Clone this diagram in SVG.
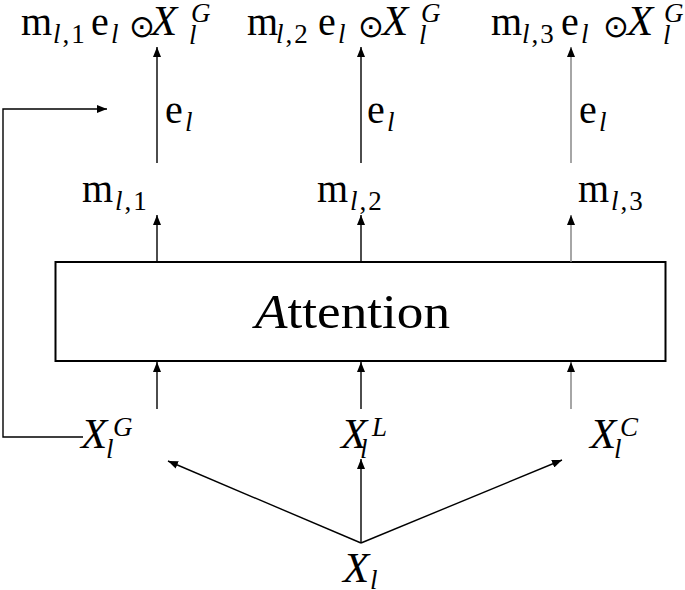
<svg xmlns="http://www.w3.org/2000/svg" width="685" height="590" viewBox="0 0 685 590">
<style>
text{font-family:"Liberation Serif","DejaVu Serif",serif;fill:#000}
.m{font-size:40px}
.s{font-size:27px}
.ls{letter-spacing:2px}
.i{font-style:italic}
.x{font-size:43px;font-style:italic}
.od{font-family:"DejaVu Sans",sans-serif;font-size:31px}
.ln{fill:none;stroke:#000;stroke-width:1.4}
.gr{stroke:#808080}
</style>
<defs>
<marker id="ah" viewBox="0 0 10 8" refX="10" refY="4" markerWidth="10" markerHeight="8" markerUnits="userSpaceOnUse" orient="auto">
<path d="M0,0 L10,4 L0,8 Z" fill="#000"/>
</marker>
</defs>
<rect width="685" height="590" fill="#fff"/>
<g id="attention">
<rect x="55.5" y="262" width="610" height="99" fill="#fff" stroke="#000" stroke-width="2"/>
<text x="255" y="328" font-size="48" textLength="195" lengthAdjust="spacingAndGlyphs"><tspan class="i">A</tspan>ttention</text>
</g>
<g id="connectors">
<line class="ln" x1="157" y1="163" x2="157" y2="47" marker-end="url(#ah)"/>
<line class="ln" x1="361" y1="163" x2="361" y2="47" marker-end="url(#ah)"/>
<line class="ln gr" x1="571" y1="163" x2="571" y2="47" marker-end="url(#ah)"/>
<line class="ln" x1="157" y1="262" x2="157" y2="215" marker-end="url(#ah)"/>
<line class="ln" x1="361" y1="262" x2="361" y2="215" marker-end="url(#ah)"/>
<line class="ln gr" x1="571" y1="262" x2="571" y2="215" marker-end="url(#ah)"/>
<line class="ln" x1="157" y1="409" x2="157" y2="362" marker-end="url(#ah)"/>
<line class="ln" x1="361" y1="409" x2="361" y2="362" marker-end="url(#ah)"/>
<line class="ln gr" x1="571" y1="409" x2="571" y2="362" marker-end="url(#ah)"/>
<line class="ln" x1="361" y1="543" x2="361" y2="459" marker-end="url(#ah)"/>
<line class="ln" x1="361" y1="543" x2="168" y2="461" marker-end="url(#ah)"/>
<line class="ln" x1="361" y1="543" x2="562" y2="460" marker-end="url(#ah)"/>
<polyline class="ln" points="83,437 3,437 3,109 107,109" marker-end="url(#ah)"/>
</g>
<g id="out1">
<text><tspan class="m" x="21" y="35">m</tspan><tspan class="s ls" x="53" y="43"><tspan class="i">l</tspan>,1</tspan><tspan class="m" x="91" y="35">e</tspan><tspan class="s i" x="111" y="43">l</tspan><tspan class="od" x="129" y="37">⊙</tspan><tspan class="x" x="151" y="35">X</tspan><tspan class="s i" x="191" y="22">G</tspan><tspan class="s i" x="189" y="44">l</tspan></text>
</g>
<g id="out2">
<text><tspan class="m" x="247" y="35">m</tspan><tspan class="s ls" x="276" y="43"><tspan class="i">l</tspan>,2</tspan><tspan class="m" x="318" y="35">e</tspan><tspan class="s i" x="338" y="43">l</tspan><tspan class="od" x="358" y="37">⊙</tspan><tspan class="x" x="382" y="35">X</tspan><tspan class="s i" x="421" y="22">G</tspan><tspan class="s i" x="419" y="44">l</tspan></text>
</g>
<g id="out3">
<text><tspan class="m" x="491" y="35">m</tspan><tspan class="s ls" x="522" y="43"><tspan class="i">l</tspan>,3</tspan><tspan class="m" x="561" y="35">e</tspan><tspan class="s i" x="581" y="43">l</tspan><tspan class="od" x="603" y="37">⊙</tspan><tspan class="x" x="627" y="35">X</tspan><tspan class="s i" x="664" y="22">G</tspan><tspan class="s i" x="663" y="44">l</tspan></text>
</g>
<g id="e1"><text><tspan class="m" x="165" y="123">e</tspan><tspan class="s i" x="185" y="131">l</tspan></text></g>
<g id="e2"><text><tspan class="m" x="367" y="123">e</tspan><tspan class="s i" x="387" y="131">l</tspan></text></g>
<g id="e3"><text><tspan class="m" x="579" y="123">e</tspan><tspan class="s i" x="599" y="131">l</tspan></text></g>
<g id="m1"><text><tspan class="m" x="82" y="202">m</tspan><tspan class="s ls" x="115" y="210"><tspan class="i">l</tspan>,1</tspan></text></g>
<g id="m2"><text><tspan class="m" x="317" y="202">m</tspan><tspan class="s ls" x="350" y="210"><tspan class="i">l</tspan>,2</tspan></text></g>
<g id="m3"><text><tspan class="m" x="578" y="202">m</tspan><tspan class="s ls" x="611" y="210"><tspan class="i">l</tspan>,3</tspan></text></g>
<g id="xg"><text><tspan class="x" x="81" y="448">X</tspan><tspan class="s i" x="113" y="436">G</tspan><tspan class="s i" x="106" y="458">l</tspan></text></g>
<g id="xl"><text><tspan class="x" x="341" y="448">X</tspan><tspan class="s i" x="372" y="436">L</tspan><tspan class="s i" x="360" y="458">l</tspan></text></g>
<g id="xc"><text><tspan class="x" x="590" y="448">X</tspan><tspan class="s i" x="620" y="436">C</tspan><tspan class="s i" x="614" y="458">l</tspan></text></g>
<g id="x"><text><tspan class="x" x="343" y="582">X</tspan><tspan class="s i" x="370" y="589">l</tspan></text></g>
</svg>
